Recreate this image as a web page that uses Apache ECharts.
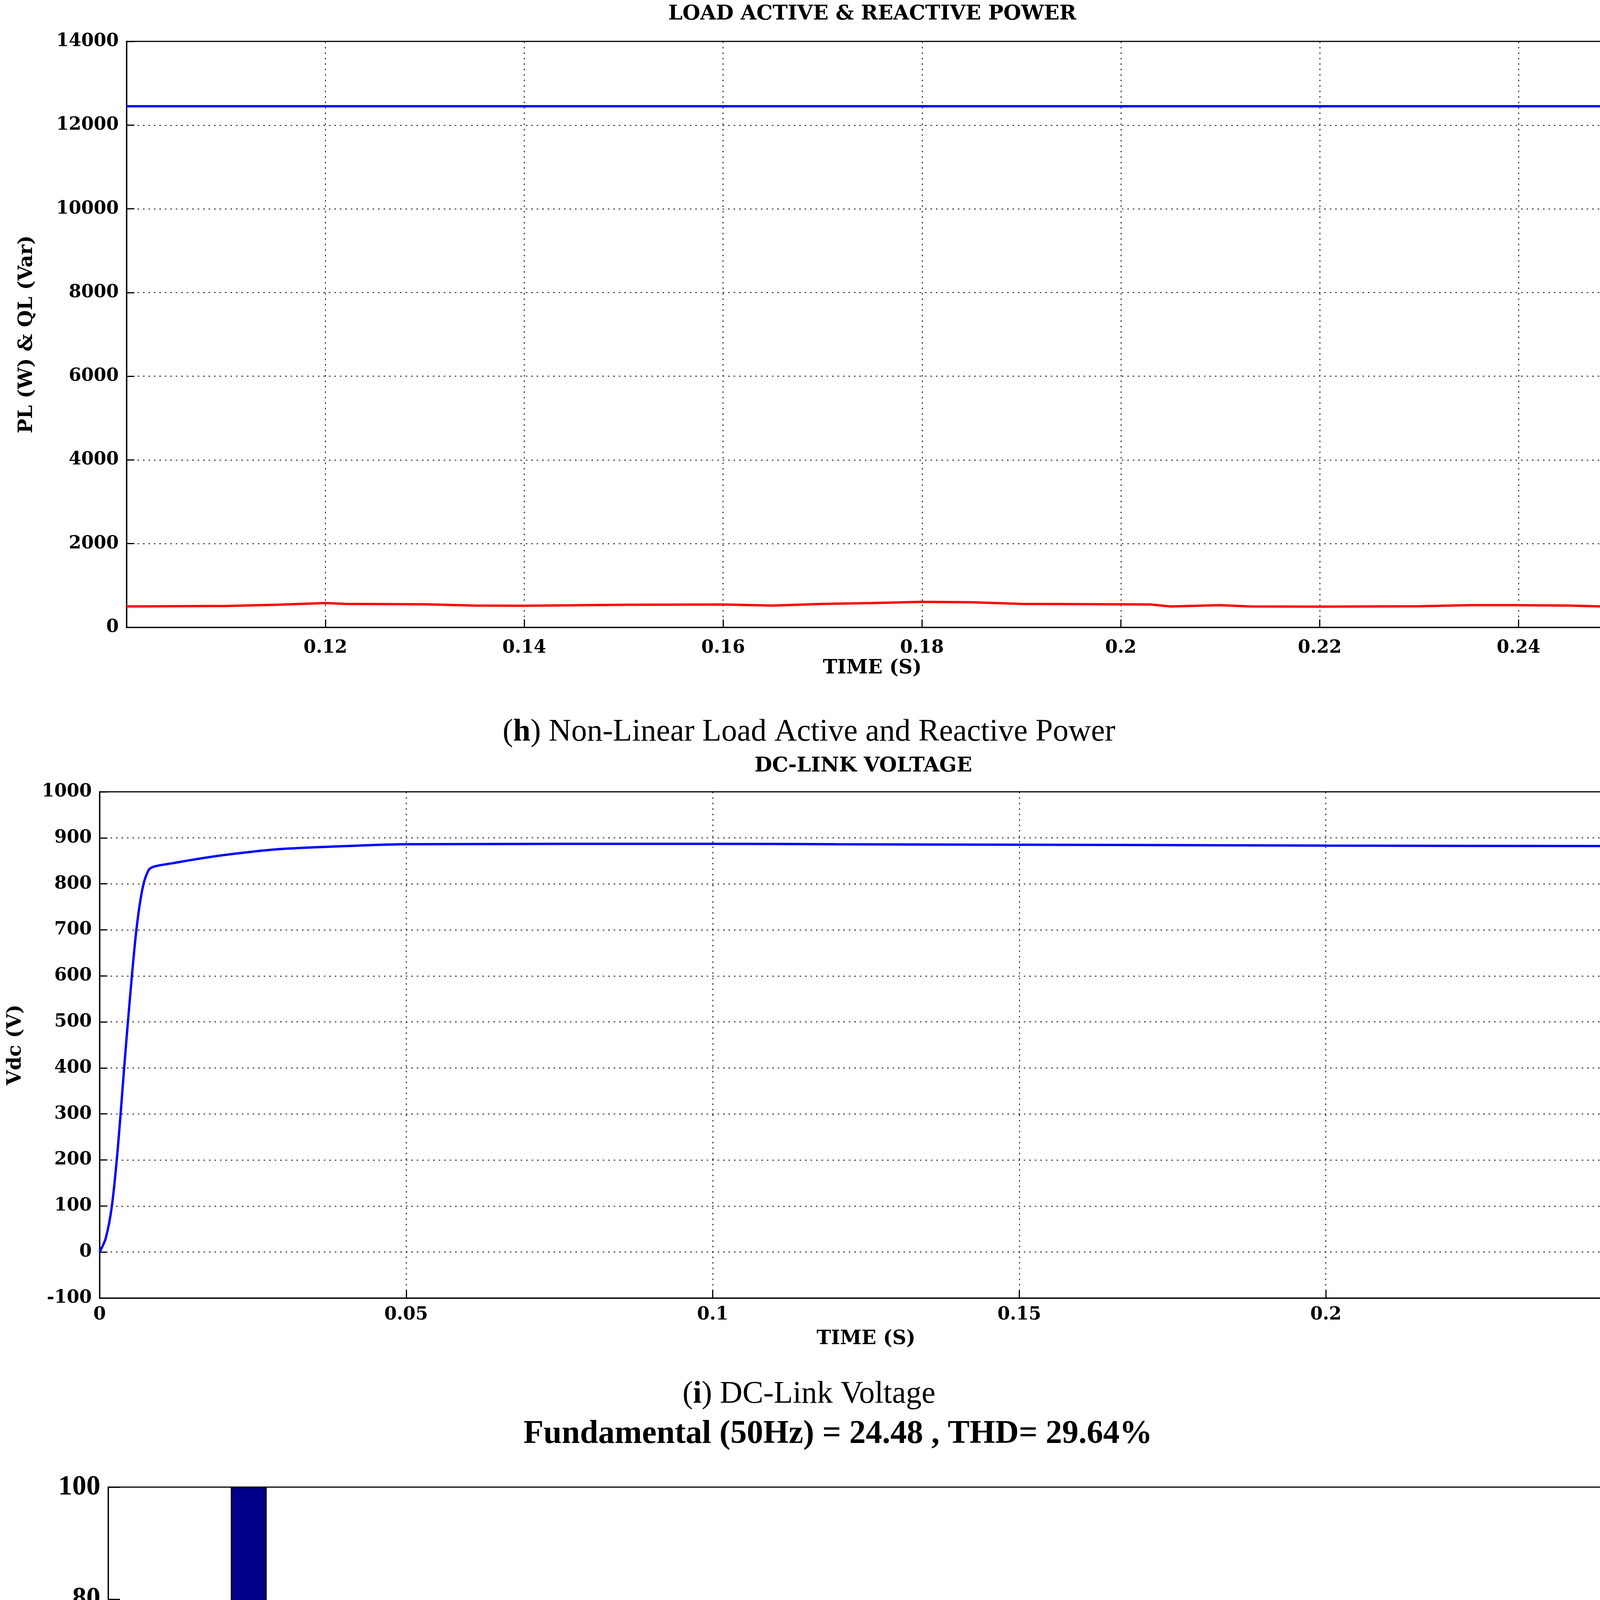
<!DOCTYPE html>
<html><head><meta charset="utf-8">
<script src="https://cdn.jsdelivr.net/npm/echarts@6/dist/echarts.min.js"></script>
<style>html,body{margin:0;padding:0;background:#fff}#c{width:4222px;height:5684px}</style>
</head><body><div id="c"></div>
<script>
// Chart (h)
const hTime = [0.10,0.11,0.115,0.12,0.122,0.13,0.135,0.14,0.15,0.16,0.165,0.17,0.175,0.18,0.185,0.19,0.20,0.203,0.205,0.21,0.213,0.22,0.23,0.235,0.24,0.245,0.25];
const hActive = hTime.map(()=>12450);
const hReactive = [500,510,540,580,560,550,520,515,540,545,520,560,580,610,600,560,550,545,500,530,500,495,505,530,530,520,490];
// Chart (i)
const vTime = [0,0.001,0.002,0.003,0.004,0.005,0.006,0.007,0.008,0.009,0.012,0.015,0.02,0.025,0.03,0.04,0.05,0.1,0.12,0.15,0.18,0.2,0.25];
const vdc = [0,30,100,230,400,560,700,790,830,838,845,852,862,870,876,882,886,887,886,885,884,883,882];
// Chart (j)
const freq = [0,50,100,150,200,250,300,350,400,450,500,550,600,650,700,750,800,850,900,950];
const mag = [0.5,100,1,0.5,1,20.5,0.5,14,1,0.5,1,9,0.5,7.8,1,0.5,1,5.7,0.5,5.2];

const c = echarts.init(document.getElementById('c'));
const f1 = 'DejaVu Serif';
const f2 = 'Liberation Serif';
const dotted = {show:true,lineStyle:{color:'#000',type:[4,10],width:2}};
function axis(extra, font, size){
  return Object.assign({
    axisLine:{onZero:false,lineStyle:{color:'#000',width:3}},
    axisTick:{inside:true,length:20,lineStyle:{color:'#000',width:3}},
    axisLabel:{color:'#000',fontFamily:font,fontWeight:'bold',fontSize:size,margin:20,formatter:v=>String(v)},
    splitLine:dotted,
    nameLocation:'middle',
    nameTextStyle:{color:'#000',fontFamily:font,fontWeight:'bold',fontSize:size*1.08}
  }, extra);
}
const hx = t=>+t.toFixed(3);
const W = 4222;
function ctext(top, text, font, cx){
  return {type:'text',x:cx,y:top,style:{text:text,font:font,fill:'#000',textAlign:'center',textVerticalAlign:'top'}};
}
c.setOption({
  animation:false,
  graphic:[
    ctext(10,'LOAD ACTIVE & REACTIVE POWER','bold 52px "DejaVu Serif"',2233),
    ctext(1935,'DC-LINK VOLTAGE','bold 52px "DejaVu Serif"',2210),
    ctext(3630,'Fundamental (50Hz) = 24.48 , THD= 29.64%','bold 84px "Liberation Serif"',2145),
    {type:'text',x:W/2-40,y:1835,style:{rich:{b:{font:'bold 80px "Liberation Serif"',fill:'#000'},n:{font:'80px "Liberation Serif"',fill:'#000'}},text:'{n|(}{b|h}{n|) Non-Linear Load Active and Reactive Power}',textAlign:'center'}},
    {type:'text',x:W/2-40,y:3530,style:{rich:{b:{font:'bold 80px "Liberation Serif"',fill:'#000'},n:{font:'80px "Liberation Serif"',fill:'#000'}},text:'{n|(}{b|i}{n|) DC-Link Voltage}',textAlign:'center'}},
    {type:'text',x:W/2-40,y:5570,style:{text:'(j) THD Analysis of Non-Linear Load Current',font:'80px "Liberation Serif"',fill:'#000',textAlign:'center'}}
  ],
  grid:[
    {left:324,top:106,width:3818,height:1500,show:true,borderColor:'#000',borderWidth:3},
    {left:255,top:2027,width:3924,height:1296,show:true,borderColor:'#000',borderWidth:3},
    {left:277,top:3807,width:3847,height:1434,show:true,borderColor:'#000',borderWidth:3}
  ],
  xAxis:[
    axis({type:'value',gridIndex:0,min:0.10,max:0.25,interval:0.02,name:'TIME (S)',nameGap:80,
      axisLabel:{color:'#000',fontFamily:f1,fontWeight:'bold',fontSize:46,margin:30,formatter:v=>(v<0.105||v>0.245)?'':String(hx(v))}},f1,46),
    axis({type:'value',gridIndex:1,min:0,max:0.25,interval:0.05,name:'TIME (S)',nameGap:80,
      axisLabel:{color:'#000',fontFamily:f1,fontWeight:'bold',fontSize:46,margin:20,formatter:v=>v>0.24?'':String(hx(v))}},f1,46),
    axis({type:'value',gridIndex:2,min:-48,max:1000,interval:100,name:'Frequency (Hz)',nameGap:150,splitLine:{show:false},
      axisTick:{show:false},
      axisLabel:{color:'#000',fontFamily:f2,fontWeight:'bold',fontSize:72,margin:30,formatter:v=>v<0?'':String(Math.round(v))}},f2,72)
  ],
  yAxis:[
    axis({type:'value',gridIndex:0,min:0,max:14000,interval:2000,name:'PL (W) & QL (Var)',nameGap:230},f1,46),
    axis({type:'value',gridIndex:1,min:-100,max:1000,interval:100,name:'Vdc (V)',nameGap:190},f1,46),
    axis({type:'value',gridIndex:2,min:0,max:100,interval:20,name:'Mag (% of Fundamental)',nameGap:150,splitLine:{show:false},
      axisTick:{show:true,inside:true,length:30,lineStyle:{color:'#000',width:3}}},f2,72)
  ],
  series:[
    {type:'line',xAxisIndex:0,yAxisIndex:0,data:hTime.map((t,i)=>[t,hActive[i]]),showSymbol:false,lineStyle:{color:'#0000ff',width:6}},
    {type:'line',xAxisIndex:0,yAxisIndex:0,data:hTime.map((t,i)=>[t,hReactive[i]]),showSymbol:false,lineStyle:{color:'#ff0000',width:6}},
    {type:'line',xAxisIndex:1,yAxisIndex:1,data:vTime.map((t,i)=>[t,vdc[i]]),showSymbol:false,smooth:0.3,lineStyle:{color:'#0000ff',width:6}},
    {type:'bar',xAxisIndex:2,yAxisIndex:2,data:freq.map((f,i)=>[f,mag[i]]),barWidth:92,itemStyle:{color:'#00008b',borderColor:'#000',borderWidth:3}}
  ]
});
</script></body></html>
